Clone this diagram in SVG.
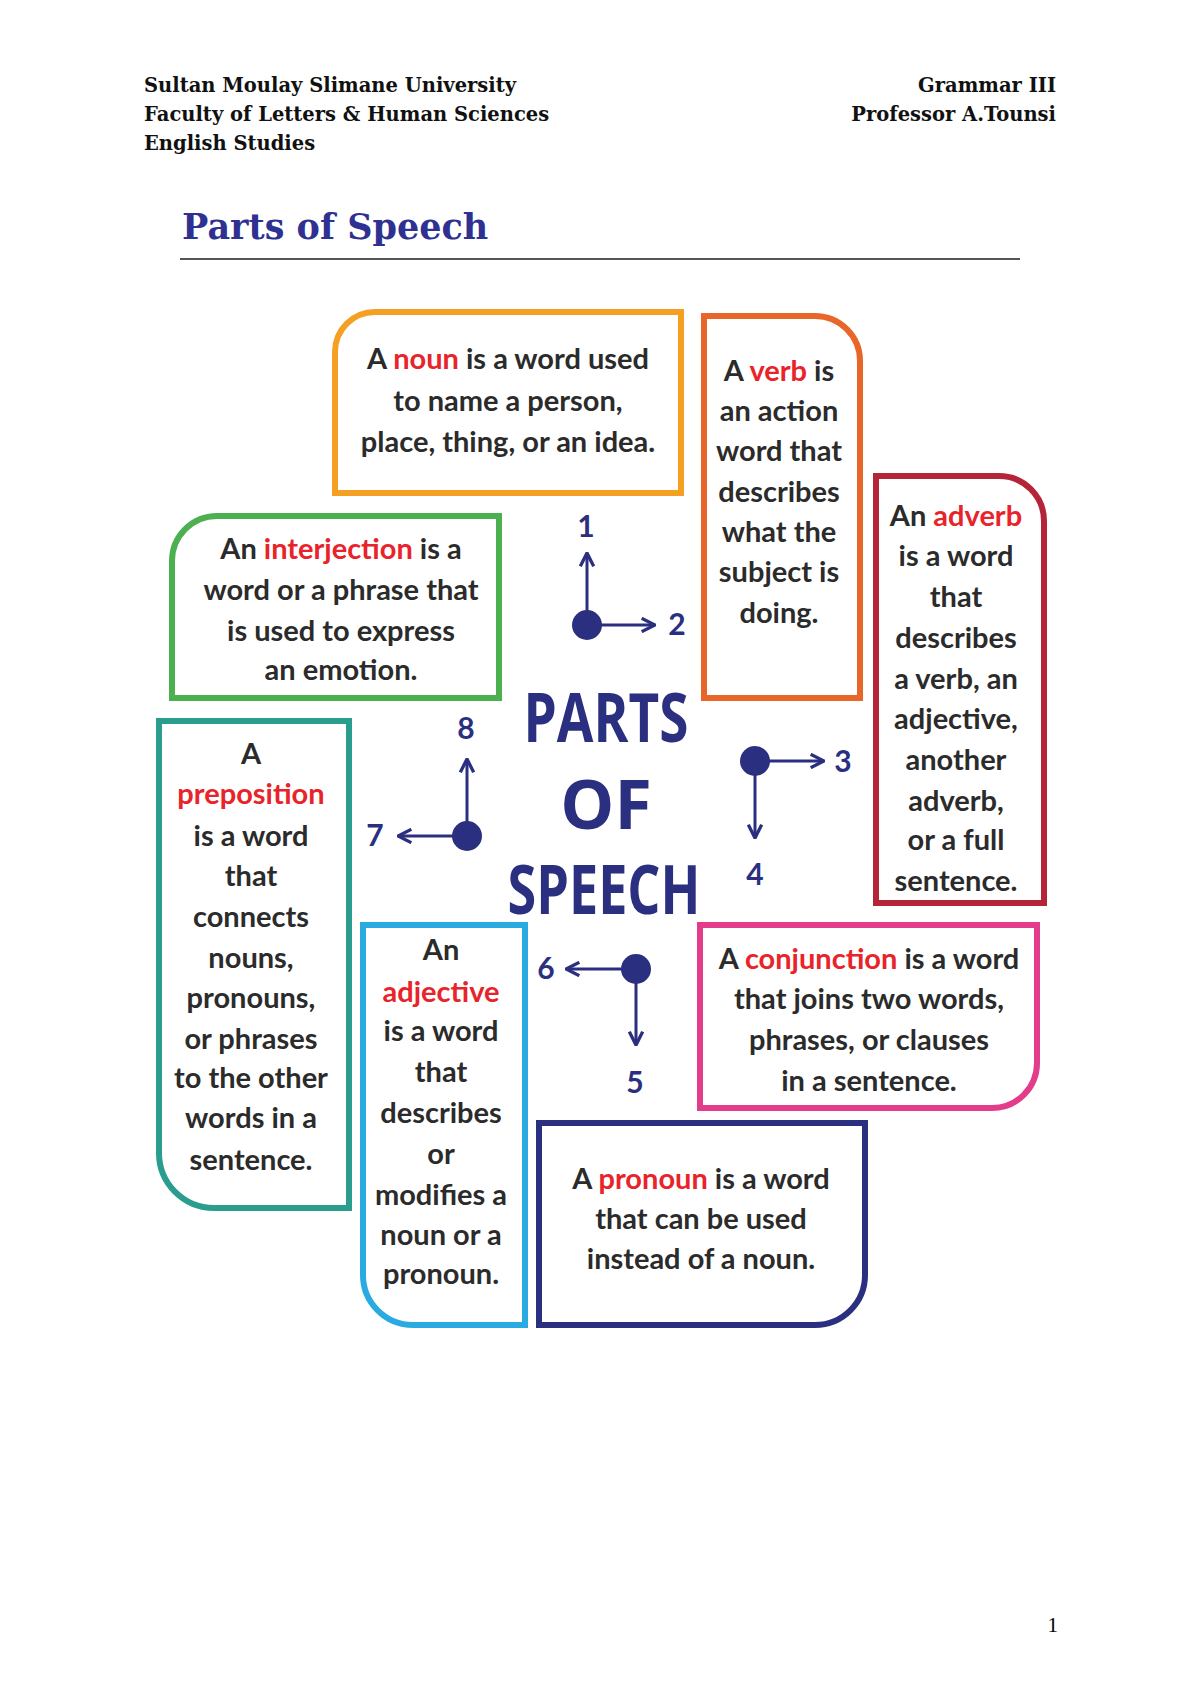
<svg xmlns="http://www.w3.org/2000/svg" width="1200" height="1698" viewBox="0 0 1200 1698">
<style>
.hd{font-family:"DejaVu Serif","Liberation Serif",serif;font-weight:bold;font-size:19.5px;fill:#111}
.t{font-family:Lato,"Open Sans",sans-serif;font-weight:bold;font-size:29px;fill:#2b2b2b;text-anchor:middle}
.r{fill:#e8232a}
.box{fill:#fff;stroke-width:6}
.c{font-family:"Open Sans",Lato,sans-serif;font-weight:bold;fill:#2b2f7f;text-anchor:middle;font-size:68px}
.n{font-family:Lato,sans-serif;font-weight:bold;fill:#2b2f7f;font-size:30px;text-anchor:middle}
.ln{stroke:#2b2f7f;stroke-width:3;fill:none}
</style>
<defs><marker id="b" viewBox="0 0 12 12" refX="11" refY="6" markerWidth="16" markerHeight="16" orient="auto" markerUnits="userSpaceOnUse"><path d="M1,1 L11,6 L1,11" fill="none" stroke="#2b2f7f" stroke-width="2.5"/></marker></defs>
<rect width="1200" height="1698" fill="#fff"/>
<g id="header">
<text class="hd" x="144" y="92">Sultan Moulay Slimane University</text>
<text class="hd" x="144" y="121">Faculty of Letters &amp; Human Sciences</text>
<text class="hd" x="144" y="150">English Studies</text>
<text class="hd" x="1056" y="92" text-anchor="end">Grammar III</text>
<text class="hd" x="1056" y="121" text-anchor="end">Professor A.Tounsi</text>
<text x="182" y="239" font-family="DejaVu Serif,serif" font-weight="bold" font-size="35" fill="#2e3192">Parts of Speech</text>
<line x1="180" y1="259" x2="1020" y2="259" stroke="#555" stroke-width="2"/>
<text x="1058" y="1632" font-family="Liberation Serif,serif" font-size="21" text-anchor="end">1</text>
</g>
<g id="noun"><path class="box" stroke="#f5a023" d="M375,312 H681 V493 H335 V352 A40,40 0 0 1 375,312 Z"/>
<text class="t" x="508" y="369">A <tspan class="r">noun</tspan> is a word used</text><text class="t" x="508" y="411">to name a person,</text><text class="t" x="508" y="452">place, thing, or an idea.</text></g>
<g id="verb"><path class="box" stroke="#e8662a" d="M704,316 H815 A45,45 0 0 1 860,361 V698 H704 Z"/>
<text class="t" x="779" y="381">A <tspan class="r">verb</tspan> is</text><text class="t" x="779" y="421">an action</text><text class="t" x="779" y="461">word that</text><text class="t" x="779" y="502">describes</text><text class="t" x="779" y="542">what the</text><text class="t" x="779" y="582">subject is</text><text class="t" x="779" y="623">doing.</text></g>
<g id="adverb"><path class="box" stroke="#b5253a" d="M876,476 H999 A45,45 0 0 1 1044,521 V903 H876 Z"/>
<text class="t" x="956" y="526">An <tspan class="r">adverb</tspan></text><text class="t" x="956" y="566">is a word</text><text class="t" x="956" y="607">that</text><text class="t" x="956" y="648">describes</text><text class="t" x="956" y="689">a verb, an</text><text class="t" x="956" y="729">adjective,</text><text class="t" x="956" y="770">another</text><text class="t" x="956" y="811">adverb,</text><text class="t" x="956" y="850">or a full</text><text class="t" x="956" y="891">sentence.</text></g>
<g id="interjection"><path class="box" stroke="#4caf50" d="M217,516 H499 V698 H172 V561 A45,45 0 0 1 217,516 Z"/>
<text class="t" x="341" y="559">An <tspan class="r">interjection</tspan> is a</text><text class="t" x="341" y="600">word or a phrase that</text><text class="t" x="341" y="641">is used to express</text><text class="t" x="341" y="680">an emotion.</text></g>
<g id="preposition"><path class="box" stroke="#2a9d8f" d="M159,721 H349 V1208 H214 A55,55 0 0 1 159,1153 Z"/>
<text class="t" x="251" y="764">A</text><text class="t" x="251" y="804"><tspan class="r">preposition</tspan></text><text class="t" x="251" y="846">is a word</text><text class="t" x="251" y="886">that</text><text class="t" x="251" y="927">connects</text><text class="t" x="251" y="968">nouns,</text><text class="t" x="251" y="1008">pronouns,</text><text class="t" x="251" y="1049">or phrases</text><text class="t" x="251" y="1088">to the other</text><text class="t" x="251" y="1128">words in a</text><text class="t" x="251" y="1170">sentence.</text></g>
<g id="adjective"><path class="box" stroke="#29abe2" d="M363,925 H525 V1325 H413 A50,50 0 0 1 363,1275 Z"/>
<text class="t" x="441" y="960">An</text><text class="t" x="441" y="1002"><tspan class="r">adjective</tspan></text><text class="t" x="441" y="1041">is a word</text><text class="t" x="441" y="1082">that</text><text class="t" x="441" y="1123">describes</text><text class="t" x="441" y="1164">or</text><text class="t" x="441" y="1205">modifies a</text><text class="t" x="441" y="1245">noun or a</text><text class="t" x="441" y="1284">pronoun.</text></g>
<g id="pronoun"><path class="box" stroke="#2b2f7f" d="M539,1123 H865 V1275 A50,50 0 0 1 815,1325 H539 Z"/>
<text class="t" x="701" y="1189">A <tspan class="r">pronoun</tspan> is a word</text><text class="t" x="701" y="1229">that can be used</text><text class="t" x="701" y="1269">instead of a noun.</text></g>
<g id="conjunction"><path class="box" stroke="#e23c8a" d="M700,925 H1037 V1063 A45,45 0 0 1 992,1108 H700 Z"/>
<text class="t" x="869" y="969">A <tspan class="r">conjunction</tspan> is a word</text><text class="t" x="869" y="1009">that joins two words,</text><text class="t" x="869" y="1050">phrases, or clauses</text><text class="t" x="869" y="1091">in a sentence.</text></g>
<g id="center">
<text class="c" x="606" y="742" textLength="165" lengthAdjust="spacingAndGlyphs">PARTS</text>
<text class="c" x="606" y="829">OF</text>
<text class="c" x="604" y="914" textLength="193" lengthAdjust="spacingAndGlyphs">SPEECH</text>
</g>
<g id="connectors">
<line class="ln" x1="587" y1="625" x2="587" y2="553" marker-end="url(#b)"/><line class="ln" x1="587" y1="625" x2="655" y2="625" marker-end="url(#b)"/><circle cx="587" cy="625" r="15" fill="#2b2f7f"/>
<line class="ln" x1="755" y1="761" x2="824" y2="761" marker-end="url(#b)"/><line class="ln" x1="755" y1="761" x2="755" y2="838" marker-end="url(#b)"/><circle cx="755" cy="761" r="15" fill="#2b2f7f"/>
<line class="ln" x1="636" y1="969" x2="636" y2="1045" marker-end="url(#b)"/><line class="ln" x1="636" y1="969" x2="566" y2="969" marker-end="url(#b)"/><circle cx="636" cy="969" r="15" fill="#2b2f7f"/>
<line class="ln" x1="467" y1="836" x2="398" y2="836" marker-end="url(#b)"/><line class="ln" x1="467" y1="836" x2="467" y2="759" marker-end="url(#b)"/><circle cx="467" cy="836" r="15" fill="#2b2f7f"/>
<text class="n" x="586" y="537">1</text><text class="n" x="677" y="635">2</text><text class="n" x="843" y="772">3</text><text class="n" x="755" y="885">4</text><text class="n" x="635" y="1093">5</text><text class="n" x="546" y="979">6</text><text class="n" x="375" y="846">7</text><text class="n" x="466" y="739">8</text>
</g>
</svg>
